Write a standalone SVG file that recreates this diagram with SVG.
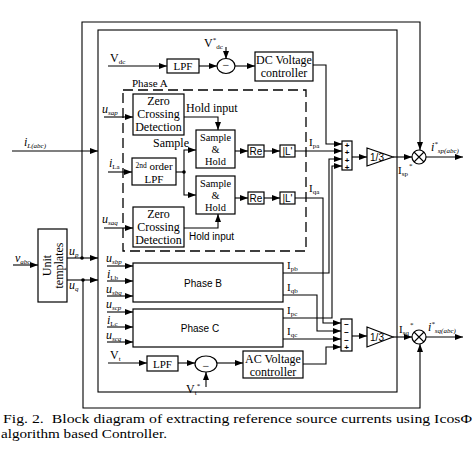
<svg xmlns="http://www.w3.org/2000/svg" width="474" height="452" viewBox="0 0 474 452">
<defs>
<marker id="arr" markerUnits="userSpaceOnUse" markerWidth="8" markerHeight="6" refX="8" refY="3" orient="auto">
<path d="M0,0 L8,3 L0,6 z" fill="#000"/>
</marker>
<style>
.bx{fill:#fff;stroke:#000;stroke-width:1.2}
.ln{fill:none;stroke:#000;stroke-width:1.1}
.ar{fill:none;stroke:#000;stroke-width:1.1;marker-end:url(#arr)}
.dash{fill:none;stroke:#000;stroke-width:1.3;stroke-dasharray:10,5}
text{font-family:"Liberation Serif","Times New Roman",serif;font-size:12px;fill:#000}
.c{text-anchor:middle}
.s{font-family:"Liberation Sans",Arial,sans-serif;font-size:10px}
.l{font-size:11px}
.it{font-style:italic}
.sub{font-size:7px}
.sh{font-size:10.4px;text-anchor:middle}
.sg{font-family:"Liberation Sans",Arial,sans-serif;font-size:8px;font-weight:bold;text-anchor:middle}
</style>
</defs>
<rect width="474" height="452" fill="#fff"/>

<g id="inner-frame"><rect x="98" y="30" width="299" height="362" class="ln" stroke-width="1.3"/></g>
<g id="phaseA-frame"><rect x="123" y="90" width="183" height="161" class="dash"/><text x="132" y="87" class="l">Phase A</text></g>

<g id="connectors">
<path class="ar" d="M108,66 H167"/>
<path class="ar" d="M199,66 H217"/>
<path class="ar" d="M226,47 V59"/>
<path class="ar" d="M235,66 H255"/>
<path class="ar" d="M313,65 H326 V144 H342"/>
<path class="ar" d="M104,117 H133"/>
<path class="ar" d="M184,117 H218 V130"/>
<path class="ar" d="M108,172 H132"/>
<path class="ln" d="M176,172 H184"/>
<path class="ar" d="M184,172 V150 H196"/>
<path class="ar" d="M184,172 V195 H196"/>
<circle cx="184" cy="172" r="1.8" fill="#000"/>
<path class="ar" d="M104,228 H133"/>
<path class="ar" d="M184,228 H218 V214"/>
<path class="ar" d="M235,151 H248"/>
<path class="ar" d="M264,151 H280"/>
<path class="ar" d="M235,198 H248"/>
<path class="ar" d="M264,198 H280"/>
<path class="ar" d="M295,151 H342"/>
<path class="ar" d="M295,198 H323 V323 H341"/>
<path class="ar" d="M283,273 H329 V159 H342"/>
<path class="ar" d="M283,318 H332 V166 H342"/>
<path class="ar" d="M283,295 H317 V331 H341"/>
<path class="ar" d="M283,339 H341"/>
<path class="ar" d="M303,364 H326 V347 H341"/>
<path class="ar" d="M352,157 H367"/>
<path class="ar" d="M393,157 H412"/>
<path class="ar" d="M426,157 H463"/>
<path class="ar" d="M352,336 H367"/>
<path class="ar" d="M393,337 H412"/>
<path class="ar" d="M426,337 H463"/>
<path class="ar" d="M82,258 V22 H420 V150"/>
<path class="ar" d="M83,280 V408 H420 V344"/>
<path class="ar" d="M12,151 H98"/>
<path class="ar" d="M13,265 H38"/>
<path class="ar" d="M67,258 H98"/>
<path class="ar" d="M67,280 H98"/>
<circle cx="82" cy="258" r="1.8" fill="#000"/>
<circle cx="83" cy="280" r="1.8" fill="#000"/>
<path class="ar" d="M107,266 H133"/>
<path class="ar" d="M107,281 H133"/>
<path class="ar" d="M107,296 H133"/>
<path class="ar" d="M107,312 H133"/>
<path class="ar" d="M107,327 H133"/>
<path class="ar" d="M107,342 H133"/>
<path class="ar" d="M108,363 H147"/>
<path class="ar" d="M178,363 H195"/>
<path class="ar" d="M206,387 V372"/>
<path class="ar" d="M217,363 H243"/>
</g>

<g id="labels">
<text x="110" y="62">V<tspan class="sub" dy="2">dc</tspan></text>
<text x="204" y="47">V<tspan class="sub" dy="-5">*</tspan><tspan class="sub" dy="7">dc</tspan></text>
<text x="102" y="113" class="it">u<tspan class="sub" dy="2">sap</tspan></text>
<text x="109" y="167" class="it">i<tspan class="sub" dy="2" font-style="normal">La</tspan></text>
<text x="102" y="223" class="it">u<tspan class="sub" dy="2">saq</tspan></text>
<text x="186" y="112">Hold input</text>
<text x="153" y="147">Sample</text>
<text x="189" y="240" class="s" font-size="11">Hold input</text>
<text x="309" y="146" class="l">I<tspan class="sub" dy="2">pa</tspan></text>
<text x="309" y="192" class="l">I<tspan class="sub" dy="2">qa</tspan></text>
<text x="287" y="269" class="l">I<tspan class="sub" dy="2">pb</tspan></text>
<text x="287" y="291" class="l">I<tspan class="sub" dy="2">qb</tspan></text>
<text x="287" y="314" class="l">I<tspan class="sub" dy="2">pc</tspan></text>
<text x="287" y="335" class="l">I<tspan class="sub" dy="2">qc</tspan></text>
<text x="398" y="174" class="l">I<tspan class="sub" dy="2">sp</tspan><tspan class="sub" dx="1" dy="-8">*</tspan></text>
<text x="399" y="333" class="l">I<tspan class="sub" dy="2">sq</tspan><tspan class="sub" dx="1" dy="-8">*</tspan></text>
<text x="431" y="151" class="it">i<tspan class="sub" dy="-5">*</tspan><tspan class="sub" dy="7">sp(abc)</tspan></text>
<text x="428" y="331" class="it">i<tspan class="sub" dy="-5">*</tspan><tspan class="sub" dy="7">sq(abc)</tspan></text>
<text x="24" y="146" class="it">i<tspan class="sub" dy="2">L(abc)</tspan></text>
<text x="15" y="262" class="it">v<tspan class="sub" dy="2">abc</tspan></text>
<text x="69" y="255" class="it">u<tspan class="sub" dy="2">p</tspan></text>
<text x="69" y="289" class="it">u<tspan class="sub" dy="2">q</tspan></text>
<text x="106" y="262" class="it">u<tspan class="sub" dy="2">sbp</tspan></text>
<text x="107" y="278" class="it">i<tspan class="sub" dy="2" font-style="normal">Lb</tspan></text>
<text x="106" y="293" class="it">u<tspan class="sub" dy="2">sbq</tspan></text>
<text x="106" y="308" class="it">u<tspan class="sub" dy="2">scp</tspan></text>
<text x="107" y="324" class="it">i<tspan class="sub" dy="2" font-style="normal">Lc</tspan></text>
<text x="106" y="339" class="it">u<tspan class="sub" dy="2">scq</tspan></text>
<text x="110" y="359">V<tspan class="sub" dy="2">t</tspan></text>
<text x="186" y="393">V<tspan class="sub" dy="2">t</tspan><tspan class="sub" dy="-7">*</tspan></text>
</g>

<g id="lpf-dc"><rect x="167" y="59" width="32" height="14" class="bx"/><text x="183" y="70" class="c l">LPF</text></g>
<g id="sum-dc"><ellipse cx="226" cy="66" rx="9" ry="7.5" class="bx"/><text x="226" y="69" class="c" font-size="10">−</text></g>
<g id="dc-controller"><rect x="255" y="52" width="58" height="29" class="bx"/><text class="c"><tspan x="284" y="64">DC Voltage</tspan><tspan x="284" y="77">controller</tspan></text></g>

<g id="zcd-p"><rect x="133" y="94" width="51" height="41" class="bx"/><text class="c"><tspan x="158.5" y="105">Zero</tspan><tspan x="158.5" y="118">Crossing</tspan><tspan x="158.5" y="131">Detection</tspan></text></g>
<g id="lpf2"><rect x="132" y="158" width="44" height="27" class="bx"/><text class="c l"><tspan x="154" y="169.5"><tspan font-size="7.5" dy="-2">2nd</tspan><tspan dy="2"> order</tspan></tspan><tspan x="154" y="182.5">LPF</tspan></text></g>
<g id="zcd-q"><rect x="133" y="207" width="51" height="40" class="bx"/><text class="c"><tspan x="158.5" y="218">Zero</tspan><tspan x="158.5" y="231">Crossing</tspan><tspan x="158.5" y="244">Detection</tspan></text></g>
<g id="sh1"><rect x="196" y="130" width="39" height="38" class="bx"/><text class="sh"><tspan x="215.5" y="141">Sample</tspan><tspan x="215.5" y="153">&amp;</tspan><tspan x="215.5" y="165">Hold</tspan></text></g>
<g id="sh2"><rect x="196" y="176" width="39" height="38" class="bx"/><text class="sh"><tspan x="215.5" y="187">Sample</tspan><tspan x="215.5" y="199">&amp;</tspan><tspan x="215.5" y="211">Hold</tspan></text></g>
<g id="re1"><rect x="248" y="145" width="16" height="12" class="bx"/><text x="256" y="155" class="c s">Re</text></g>
<g id="re2"><rect x="248" y="192" width="16" height="12" class="bx"/><text x="256" y="202" class="c s">Re</text></g>
<g id="mag1"><rect x="280" y="145" width="15" height="12" class="bx"/><text x="287.5" y="155" class="c s" font-size="9">|L'</text></g>
<g id="mag2"><rect x="280" y="192" width="15" height="12" class="bx"/><text x="287.5" y="202" class="c s" font-size="9">|L'</text></g>

<g id="sum-p"><rect x="342" y="141" width="10" height="29" class="bx"/>
<text class="sg"><tspan x="347" y="147.5">+</tspan><tspan x="347" y="155">+</tspan><tspan x="347" y="162.5">+</tspan><tspan x="347" y="170">+</tspan></text></g>
<g id="gain-p"><path d="M367,148 L393,157 L367,166 z" class="bx"/><text x="377" y="161" class="c s">1/3</text></g>
<g id="mult-p"><circle cx="419" cy="157" r="7" class="bx"/><path d="M414,152 L424,162 M424,152 L414,162" class="ln"/></g>

<g id="unit-templates"><rect x="38" y="229" width="29" height="73" class="bx"/>
<text transform="translate(51,265.5) rotate(-90)" class="c">Unit</text>
<text transform="translate(63,265.5) rotate(-90)" class="c">templates</text></g>

<g id="phase-b"><rect x="133" y="263" width="150" height="39" class="bx"/><text x="203" y="287" class="c s">Phase B</text></g>
<g id="phase-c"><rect x="133" y="309" width="150" height="38" class="bx"/><text x="200" y="332" class="c s">Phase C</text></g>

<g id="sum-q"><rect x="341" y="319" width="11" height="32" class="bx"/>
<text class="sg"><tspan x="346.5" y="326.5">−</tspan><tspan x="346.5" y="334.5">−</tspan><tspan x="346.5" y="342.5">−</tspan><tspan x="346.5" y="350">+</tspan></text></g>
<g id="gain-q"><path d="M367,327 L393,337 L367,347 z" class="bx"/><text x="377" y="341" class="c s">1/3</text></g>
<g id="mult-q"><circle cx="419" cy="337" r="7" class="bx"/><path d="M414,332 L424,342 M424,332 L414,342" class="ln"/></g>

<g id="lpf-ac"><rect x="147" y="356" width="31" height="15" class="bx"/><text x="162.5" y="367.5" class="c l">LPF</text></g>
<g id="sum-ac"><ellipse cx="206" cy="364" rx="11" ry="8" class="bx"/><text x="206" y="370" class="c" font-size="10">−</text></g>
<g id="ac-controller"><rect x="243" y="351" width="60" height="27" class="bx"/><text class="c" font-size="11.5"><tspan x="273" y="362.5">AC Voltage</tspan><tspan x="273" y="375.5">controller</tspan></text></g>

<g id="caption">
<text x="3" y="423" font-size="13" textLength="469" lengthAdjust="spacingAndGlyphs" xml:space="preserve">Fig. 2.  Block diagram of extracting reference source currents using IcosΦ</text>
<text x="1" y="438" font-size="13" textLength="166" lengthAdjust="spacingAndGlyphs">algorithm based Controller.</text>
</g>
</svg>
